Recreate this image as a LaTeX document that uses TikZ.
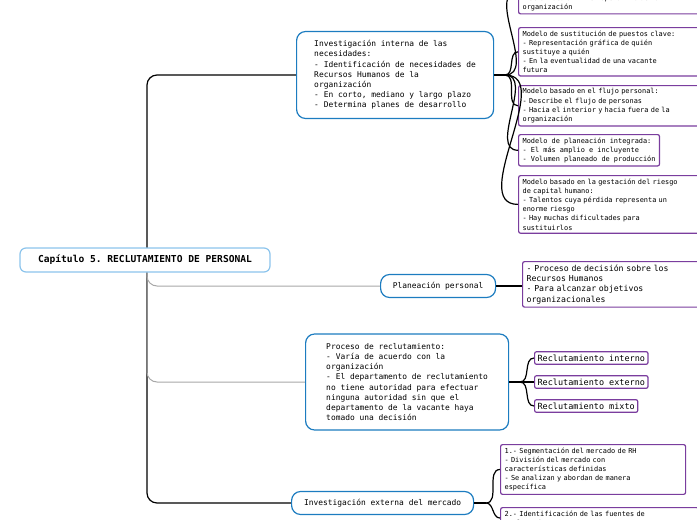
\documentclass[tikz,border=0pt]{standalone}
\usepackage{fontspec}
\setmonofont{DejaVu Sans Mono}
\definecolor{bl}{HTML}{1C7CC0}
\definecolor{lbl}{HTML}{8CC4EC}
\definecolor{pu}{HTML}{7A3D9E}
\definecolor{gr}{HTML}{A8A8A8}
\begin{document}
\begin{tikzpicture}[x=1pt,y=-1pt,
  bnode/.style={draw=bl,line width=1.2pt,rounded corners=9pt,fill=white,align=left,font=\ttfamily\fontsize{7.9}{10.2}\selectfont,inner xsep=7pt,inner ysep=4pt},
  pnode/.style={draw=pu,line width=1.2pt,rounded corners=2pt,fill=white,align=left,font=\ttfamily\fontsize{6.9}{9.2}\selectfont,inner xsep=4pt,inner ysep=3pt,anchor=north west},
  rnode/.style={draw=pu,line width=1.2pt,rounded corners=2pt,fill=white,font=\ttfamily\fontsize{8.5}{10}\selectfont,inner sep=3pt,anchor=west},
  blk/.style={line width=1.2pt,black},
  gry/.style={line width=1pt,gr}]
\useasboundingbox (0,0) rectangle (697,520);
\clip (0,0) rectangle (697,520);
% trunk
\coordinate (t) at (147,260);
\draw[blk] (t) -- (147,85) to[out=90,in=180] (157,75) -- (296,75);
\draw[blk] (t) -- (147,493) to[out=-90,in=180] (157,503) -- (291,503);
\draw[gry] (t) -- (147,276) to[out=-90,in=180] (157,286) -- (380,286);
\draw[gry] (t) -- (147,372) to[out=-90,in=180] (157,382) -- (305,382);
\node[draw=lbl,line width=1.2pt,rounded corners=6pt,fill=white,font=\ttfamily\bfseries\fontsize{9.6}{11}\selectfont,minimum width=250pt,minimum height=24pt,inner sep=2pt] (root) at (145,260) {Capítulo 5. RECLUTAMIENTO DE PERSONAL};
% N1
\node[bnode,anchor=west,minimum width=197pt,minimum height=87pt,inner xsep=14pt] (n1) at (296,75) {Investigación interna de las\\necesidades:\\- Identificación de necesidades de\\Recursos Humanos de la\\organización\\- En corto, mediano y largo plazo\\- Determina planes de desarrollo};
\node[pnode,text width=180pt] (c0) at (518,-31) {~\\~\\~\\- Se enfoca al nivel operativo de la\\organización};
\node[pnode,text width=180pt] (c1) at (518,27) {Modelo de sustitución de puestos clave:\\- Representación gráfica de quién\\sustituye a quién\\- En la eventualidad de una vacante\\futura};
\node[pnode,text width=180pt] (c2) at (518,85) {Modelo basado en el flujo personal:\\- Describe el flujo de personas\\- Hacia el interior y hacia fuera de la\\organización};
\node[pnode] (c3) at (518,134) {Modelo de planeación integrada:\\- El más amplio e incluyente\\- Volumen planeado de producción};
\node[pnode,text width=180pt] (c4) at (518,175) {Modelo basado en la gestación del riesgo\\de capital humano:\\- Talentos cuya pérdida representa un\\enorme riesgo\\- Hay muchas dificultades para\\sustituirlos};
\coordinate (j1) at (505,75);
\draw[blk] (n1.east) -- (j1);
\foreach \c in {c0,c1,c2,c3,c4}{\draw[blk] (j1) to[out=0,in=180] (\c.west);}
% Planeacion
\node[bnode,anchor=west,minimum width=115pt,minimum height=23pt] (n2) at (380,286) {Planeación personal};
\node[pnode,font=\ttfamily\fontsize{8.2}{10.4}\selectfont,text width=172pt] (p1) at (522,261) {- Proceso de decisión sobre los\\Recursos Humanos\\- Para alcanzar objetivos\\organizacionales};
\draw[blk] (n2.east) -- (p1.west |- n2.east);
% Proceso
\node[bnode,anchor=west,minimum width=203pt,minimum height=96pt,inner xsep=14pt] (n3) at (305,382) {Proceso de reclutamiento:\\- Varía de acuerdo con la\\organización\\- El departamento de reclutamiento\\no tiene autoridad para efectuar\\ninguna autoridad sin que el\\departamento de la vacante haya\\tomado una decisión};
\node[rnode] (r1) at (534,358) {Reclutamiento interno};
\node[rnode] (r2) at (534,382) {Reclutamiento externo};
\node[rnode] (r3) at (534,406) {Reclutamiento mixto};
\coordinate (j3) at (520,382);
\draw[blk] (n3.east) -- (j3);
\foreach \c in {r1,r2,r3}{\draw[blk] (j3) to[out=0,in=180] (\c.west);}
% Externa
\node[bnode,anchor=west,minimum width=182pt,minimum height=23pt] (n4) at (291,503) {Investigación externa del mercado};
\node[pnode,text width=177pt] (e1) at (500,444) {1.- Segmentación del mercado de RH\\- División del mercado con\\características definidas\\- Se analizan y abordan de manera\\específica};
\node[pnode,text width=190pt] (e2) at (500,507) {2.- Identificación de las fuentes de\\reclutamiento};
\coordinate (j4) at (486,503);
\draw[blk] (n4.east) -- (j4);
\foreach \c in {e1,e2}{\draw[blk] (j4) to[out=0,in=180] (\c.west);}
\end{tikzpicture}
\end{document}
